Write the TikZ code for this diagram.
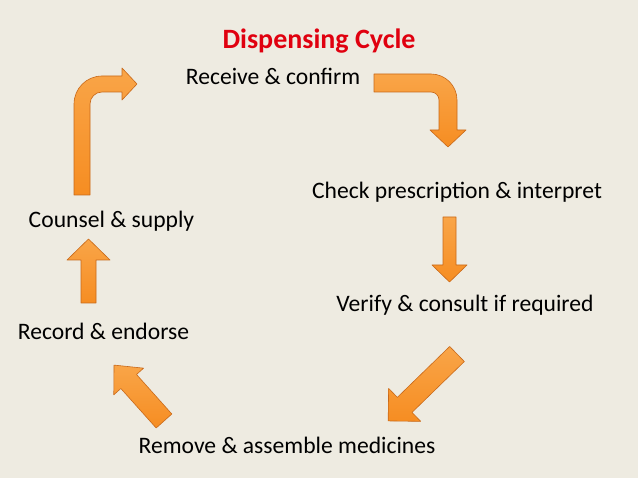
\documentclass[tikz,border=0pt]{standalone}
\usepackage{fontspec}
\setmainfont{Carlito}
\definecolor{bg}{HTML}{EEEBE1}
\definecolor{titlered}{HTML}{E0000F}
\definecolor{arrowlight}{HTML}{F9A548}
\definecolor{arrowdark}{HTML}{F68D22}
\definecolor{arrowedge}{HTML}{C8691A}
\tikzset{
  arrowshape/.style={top color=arrowlight, bottom color=arrowdark, draw=arrowedge, line width=0.6pt, line join=round},
  lbl/.style={anchor=base, font=\fontsize{23.6}{26}\selectfont, text=black, inner sep=0pt},
  ttl/.style={anchor=base, font=\fontsize{28}{32}\selectfont\bfseries, text=titlered, inner sep=0pt}
}
\newcommand{\strarrow}[7]{%
  \begin{scope}[shift={(#1,#2)}, rotate=#3]
    \path[arrowshape] (0,-#5) -- ({#4-#6},-#5) -- ({#4-#6},-#7) -- (#4,0) -- ({#4-#6},#7) -- ({#4-#6},#5) -- (0,#5) -- cycle;
  \end{scope}}
\begin{document}
\begin{tikzpicture}[x=1pt,y=1pt,yscale=-1]
  \fill[bg] (0,0) rectangle (638,478);
  \useasboundingbox (0,0) rectangle (638,478);
  % title and labels
  \node[ttl] (title) at (319,49) {Dispensing Cycle};
  \node[lbl] (receive) at (273,85) {Receive \& confirm};
  \node[lbl] (check) at (457,199) {Check prescription \& interpret};
  \node[lbl] (counsel) at (111.5,228) {Counsel \& supply};
  \node[lbl] (verify) at (465,312) {Verify \& consult if required};
  \node[lbl] (record) at (103.5,340) {Record \& endorse};
  \node[lbl] (remove) at (287,454) {Remove \& assemble medicines};
  % bent arrow up-right (left top)
  \path[arrowshape] (74,195) -- (74,104) arc (180:270:28) -- (122,76) -- (122,68) -- (137,84) -- (122,100) -- (122,92) -- (102,92) arc (270:180:12) -- (90,195) -- cycle;
  % bent arrow right-down (top right)
  \path[arrowshape] (374,74) -- (431,74) arc (270:360:26) -- (457,130) -- (466,130) -- (448,147) -- (430,130) -- (439,130) -- (439,100) arc (0:-90:8) -- (374,92) -- cycle;
  % straight arrows
  \strarrow{449.5}{217}{90}{65}{6.5}{17}{17.5}
  \strarrow{457}{354}{135.8}{96}{10.5}{23}{23}
  \strarrow{164}{421}{228.2}{75}{10.5}{22}{20}
  \strarrow{88.5}{303}{-90}{64}{7.5}{21}{21.5}
\end{tikzpicture}
\end{document}
